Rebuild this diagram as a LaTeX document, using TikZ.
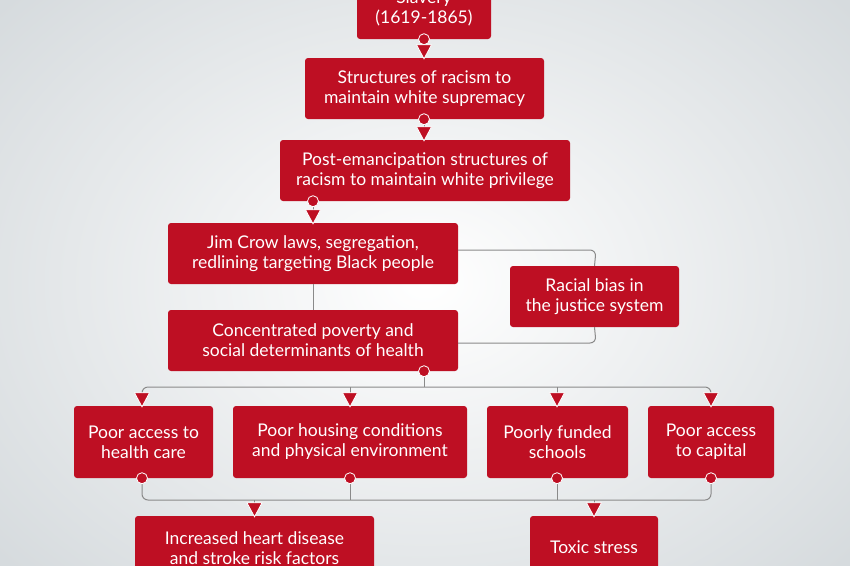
\documentclass[tikz,border=0pt]{standalone}
\usepackage{fontspec}
\setmainfont{Lato}
\definecolor{bred}{HTML}{BE0F23}
\definecolor{lgray}{HTML}{8A8A8A}
\definecolor{bgout}{HTML}{D5DADD}
\begin{document}
\begin{tikzpicture}[x=1pt,y=-1pt,
 box/.style={fill=bred,rounded corners=3pt,text=white,align=center,font=\fontsize{17.5}{20}\selectfont,inner sep=0pt},
 lbl/.style={text=white,align=center,font=\fontsize{17.5}{20}\selectfont,inner sep=0pt},
 con/.style={draw=lgray,line width=1pt,rounded corners=6pt},
 dot/.style={circle,fill=bred,draw=white,line width=0.8pt,minimum size=11pt,inner sep=0pt},
 tip/.style={fill=bred,draw=white,line width=0.8pt,line join=miter}]
\useasboundingbox (0,0) rectangle (850,565);
\shade[inner color=white,outer color=bgout] (-150,-150) rectangle (1000,715);
\begin{scope}
\clip (0,0) rectangle (850,565);
\newcommand\bx[6]{\node[box,minimum width=#4-#2,minimum height=#5-#3] (#1) at ({(#2+#4)/2},{(#3+#5)/2}) {#6};}
\bx{slav}{357}{-30}{491}{39}{\\Slavery\\(1619-1865)}
\bx{str}{305}{58}{544}{119}{Structures of racism to\\maintain white supremacy}
\bx{post}{280}{140}{570}{201}{Post-emancipation structures of\\racism to maintain white privilege}
\bx{jim}{168}{223}{458}{284}{Jim Crow laws, segregation,\\redlining targeting Black people}
\bx{bias}{510}{266}{679}{327}{Racial bias in\\the justice system}
\bx{conc}{168}{310}{458}{371}{Concentrated poverty and\\social determinants of health}
\bx{hc}{74}{406}{213}{478}{Poor access to\\health care}
\bx{hous}{233}{406}{467}{478}{Poor housing conditions\\and physical environment}
\bx{sch}{487}{406}{628}{478}{Poorly funded\\schools}
\bx{cap}{648}{406}{774}{478}{Poor access\\to capital}
\bx{heart}{135}{516}{374}{600}{Increased heart disease\\and stroke risk factors\\\ }
\bx{tox}{530}{516}{658}{600}{}
\node[lbl] (toxl) at (594,547) {Toxic stress};
\end{scope}
% gray connectors
\draw[con] (jim.south -| 313,0) -- (conc.north -| 313,0);
\draw[con] (jim.east |- 0,250) -- (596,250) -- (bias.north);
\draw[con] (bias.south) -- (596,343) -- (conc.east |- 0,343);
\draw[con] (conc.south -| 424,0) -- (424,387);
\draw[con] (hc.north -| 142,0) -- (142,387) -- (711,387) -- (cap.north -| 711,0);
\draw[con] (350,387) -- (hous.north -| 350,0);
\draw[con] (557,387) -- (sch.north -| 557,0);
\draw[con] (hc.south -| 142,0) -- (142,500) -- (711,500) -- (cap.south -| 711,0);
\draw[con] (hous.south -| 350,0) -- (350,500);
\draw[con] (sch.south -| 557,0) -- (557,500);
\draw[con] (254.5,500) -- (heart.north -| 254.5,0);
\draw[con] (594,500) -- (tox.north -| 594,0);
\draw[con] (slav.south -| 424,0) -- (str.north -| 424,0);
\draw[con] (str.south -| 424,0) -- (post.north -| 424,0);
\draw[con] (post.south -| 313,0) -- (jim.north -| 313,0);
% dots
\foreach \n/\x in {slav/424,str/424,post/313,conc/424,hc/142,hous/350,sch/557,cap/711}
  \node[dot] (d\n) at (\n.south -| \x,0) {};
% arrow tips
\foreach \n/\x in {str/424,post/424,jim/313,hc/142,hous/350,sch/557,cap/711,heart/254.5,tox/594}
  \draw[tip] ([xshift=-7.5pt,yshift=13pt]\n.north -| \x,0) -- ([xshift=7.5pt,yshift=13pt]\n.north -| \x,0) -- ([yshift=-1pt]\n.north -| \x,0) -- cycle;
\end{tikzpicture}
\end{document}
